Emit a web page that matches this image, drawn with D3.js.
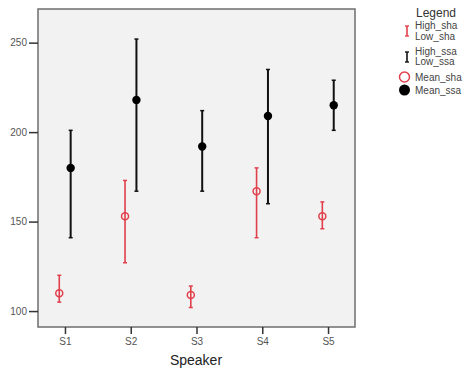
<!DOCTYPE html>
<html><head><meta charset="utf-8">
<script src="https://cdn.jsdelivr.net/npm/d3@7"></script>
<style>body{margin:0;background:#fff;} svg{display:block;font-family:"Liberation Sans",Arial,sans-serif;}</style>
</head><body><svg id="c" width="474" height="370"></svg>
<script>
const speakers = ["S1","S2","S3","S4","S5"];
const meanSha = [110,153,109,167,153];
const highSha = [120,173,114,180,161];
const lowSha  = [105,127,102,141,146];
const meanSsa = [180,218,192,209,215];
const highSsa = [201,252,212,235,229];
const lowSsa  = [141,167,167,160,201];
const yTicks = [100,150,200,250];
const legendItems = ["High_sha","Low_sha","High_ssa","Low_ssa","Mean_sha","Mean_ssa"];

const red = "#e0404c";
const svg = d3.select("#c");
const L=38,T=9,R=355,B=327;
const x = d3.scalePoint().domain(speakers).range([L,R]).padding(0.41);
const y = d3.scaleLinear().domain([91.1,268.8]).range([B,T]);

svg.append("rect").attr("x",L).attr("y",T).attr("width",R-L).attr("height",B-T)
  .attr("fill","#f2f2f2").attr("stroke","#6e6e6e").attr("stroke-width",1.5);

const ya = svg.append("g").attr("transform",`translate(${L},0)`)
  .call(d3.axisLeft(y).tickValues(yTicks).tickSize(9).tickSizeOuter(0).tickPadding(2));
ya.select(".domain").remove();
ya.selectAll("line").attr("stroke","#333").attr("stroke-width",1.5);
ya.selectAll("text").attr("fill","#555").attr("font-size",10);

const xa = svg.append("g").attr("transform",`translate(0,${B})`)
  .call(d3.axisBottom(x).tickSize(7).tickSizeOuter(0).tickPadding(4));
xa.select(".domain").remove();
xa.selectAll("line").attr("stroke","#333").attr("stroke-width",1.5);
xa.selectAll("text").attr("fill","#555").attr("font-size",10);

svg.append("text").attr("x",196).attr("y",365).attr("text-anchor","middle")
  .attr("font-size",14).attr("fill","#222").text("Speaker");

function errbars(hi,lo,off,col,w){
  const g = svg.append("g");
  speakers.forEach((s,i)=>{
    const cx = x(s)+off;
    g.append("line").attr("x1",cx).attr("x2",cx).attr("y1",y(hi[i])).attr("y2",y(lo[i]))
      .attr("stroke",col).attr("stroke-width",w);
    [hi[i],lo[i]].forEach(v=>g.append("line").attr("x1",cx-2).attr("x2",cx+2)
      .attr("y1",y(v)).attr("y2",y(v)).attr("stroke",col).attr("stroke-width",1.5));
  });
}
errbars(highSsa,lowSsa,5.7,"#111",2);
errbars(highSha,lowSha,-5.7,red,1.6);

svg.append("g").selectAll("circle").data(meanSsa).join("circle")
  .attr("cx",(d,i)=>x(speakers[i])+5.7).attr("cy",d=>y(d)).attr("r",4.2).attr("fill","#000");
svg.append("g").selectAll("circle").data(meanSha).join("circle")
  .attr("cx",(d,i)=>x(speakers[i])-5.7).attr("cy",d=>y(d)).attr("r",3.5)
  .attr("fill","none").attr("stroke",red).attr("stroke-width",1.5);

// Legend
const lg = svg.append("g");
lg.append("text").attr("x",436).attr("y",17).attr("text-anchor","middle").attr("font-size",12).attr("fill","#333").text("Legend");
const ty = [29,40,55,65,81,94];
legendItems.forEach((t,i)=>lg.append("text").attr("x",415).attr("y",ty[i]).attr("font-size",10).attr("fill","#444").text(t));
function legI(cy,col){
  lg.append("line").attr("x1",407).attr("x2",407).attr("y1",cy-5).attr("y2",cy+5).attr("stroke",col).attr("stroke-width",1.6);
  [cy-5,cy+5].forEach(v=>lg.append("line").attr("x1",405).attr("x2",409).attr("y1",v).attr("y2",v).attr("stroke",col).attr("stroke-width",1.4));
}
legI(31,red); legI(57,"#111");
lg.append("circle").attr("cx",404.5).attr("cy",77).attr("r",5).attr("fill","none").attr("stroke",red).attr("stroke-width",1.5);
lg.append("circle").attr("cx",404.5).attr("cy",90).attr("r",5.5).attr("fill","#000");
</script></body></html>
